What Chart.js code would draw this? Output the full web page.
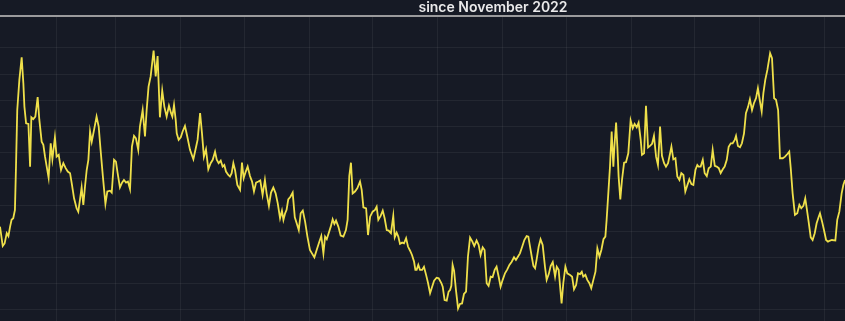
<!DOCTYPE html>
<html>
<head>
<meta charset="utf-8">
<title>since November 2022</title>
<script src="https://cdn.jsdelivr.net/npm/chart.js@4.4.1/dist/chart.umd.min.js"></script>
<style>
  html, body { margin: 0; padding: 0; background: #161a25; overflow: hidden; }
  #wrap { width: 845px; height: 321px; overflow: hidden; position: relative; }
  canvas { display: block; background: #161a25; }
</style>
</head>
<body>
<div id="wrap"><canvas id="volChart" width="986" height="321"></canvas></div>
<script>
// days counted from 5 Jan 2023 (left edge of the visible part)
const days = [
  0.0, 1.3, 2.2, 3.2, 4.0, 4.8, 5.5, 6.3, 7.1, 7.6,
  8.2, 9.2, 10.3, 11.1, 11.6, 12.4, 13.5, 14.3, 14.9, 15.8,
  16.8, 17.9, 18.7, 19.8, 20.6, 21.4, 22.2, 23.1, 24.1, 24.9,
  26.1, 26.9, 27.9, 29.0, 30.1, 31.2, 32.2, 33.3, 34.1, 35.2,
  36.4, 37.2, 38.0, 38.8, 39.6, 40.4, 41.2, 42.0, 42.8, 43.6,
  44.7, 45.9, 46.9, 47.8, 48.9, 50.1, 51.0, 52.3, 53.1, 54.2,
  55.1, 55.9, 57.0, 58.0, 58.9, 59.9, 60.8, 61.8, 62.7, 63.7,
  64.6, 65.7, 66.5, 67.8, 68.9, 69.7, 70.6, 71.6, 73.0, 74.0,
  74.9, 76.0, 77.1, 78.1, 79.2, 80.3, 81.3, 81.9, 82.7, 83.5,
  84.0, 84.9, 85.9, 86.8, 87.9, 89.0, 90.3, 91.9, 93.2, 93.9,
  95.1, 96.0, 96.9, 97.9, 99.0, 100.1, 101.1, 102.2, 103.0, 103.9,
  104.9, 105.8, 106.6, 107.4, 108.5, 109.3, 110.1, 110.9, 111.7, 112.8,
  114.1, 115.0, 115.8, 116.8, 117.7, 118.8, 119.8, 120.7, 121.7, 122.8,
  123.7, 124.8, 125.9, 126.7, 127.8, 128.8, 129.9, 131.0, 132.0, 133.1,
  134.0, 134.7, 135.5, 136.2, 137.0, 138.1, 139.1, 140.1, 141.0, 142.0,
  142.9, 143.9, 145.0, 146.1, 147.3, 148.4, 149.4, 150.5, 151.8, 152.7,
  153.7, 154.5, 155.3, 156.2, 157.2, 158.1, 158.9, 159.7, 160.8, 161.9,
  163.2, 164.4, 165.2, 166.0, 166.8, 167.6, 168.7, 169.8, 171.1, 171.9,
  172.7, 174.0, 174.9, 175.9, 177.1, 178.2, 179.0, 179.8, 180.9, 181.9,
  182.8, 183.8, 184.7, 185.8, 186.9, 187.6, 188.5, 189.3, 190.1, 191.1,
  192.0, 193.0, 193.9, 194.9, 195.8, 196.8, 197.4, 198.0, 198.8, 199.6,
  200.6, 201.5, 202.5, 203.4, 204.4, 205.3, 206.3, 207.5, 208.5, 209.8,
  210.4, 211.3, 212.3, 213.2, 213.9, 214.5, 215.1, 215.8, 216.7, 217.7,
  218.6, 219.6, 220.5, 221.5, 222.4, 223.4, 224.5, 225.4, 226.5, 227.5,
  228.4, 229.4, 230.3, 231.3, 232.2, 233.2, 234.1, 235.1, 236.0, 237.0,
  237.9, 238.9, 240.0, 241.1, 242.1, 243.2, 244.3, 245.2, 246.2, 247.1,
  248.2, 249.2, 250.3, 251.1, 251.9, 252.7, 253.5, 254.3, 255.0, 256.0,
  256.9, 257.9, 259.0, 259.8, 260.8, 261.7, 262.7, 263.8, 264.6, 265.5,
  266.9, 267.7, 268.7, 269.6, 270.9, 271.9, 272.8, 273.8, 274.7, 275.7,
  276.5, 277.2, 278.2, 279.1, 280.1, 281.0, 282.0, 283.0, 283.9, 284.9,
  285.8, 286.8, 287.7, 288.3, 289.1, 289.9, 290.7, 291.5, 292.0, 292.8,
  293.4, 294.0, 294.8, 295.6, 296.6, 297.5, 298.6, 299.7, 300.7, 301.6,
  302.6, 303.5, 304.5, 305.1, 306.1, 307.0, 308.0, 308.9, 309.9, 310.8,
  311.8, 312.7, 313.7, 314.6, 315.6, 316.5, 317.5, 318.4, 319.1, 320.0,
  321.0, 321.9, 322.9, 323.8, 324.8, 325.7, 326.7, 327.6, 328.6, 329.5,
  330.5, 331.4, 332.0, 333.0, 334.0, 334.9, 335.9, 336.8, 337.8, 338.7,
  339.7, 340.6, 341.6, 342.5, 343.5, 344.4, 345.4, 346.3, 347.3, 348.2,
  349.2, 349.8, 350.7, 351.7, 352.6, 353.6, 354.5, 355.5, 356.4, 357.4,
  358.3, 359.3, 360.2, 361.2, 362.0, 362.8, 363.7, 364.7, 366.0, 366.9,
  367.9, 368.8, 369.8, 370.7, 372.0, 373.1, 374.2, 375.1, 375.8, 376.7,
  377.8, 378.9, 379.9, 380.8, 381.8, 382.7, 383.4, 384.3, 385.3, 386.2,
  387.2, 388.1, 389.1, 389.7, 390.7, 391.6, 392.6, 393.5, 394.5, 395.4,
  397.0, 397.9, 398.9, 400.0, 400.8, 401.6
];

const values = [
  31.8, 24.4, 25.4, 29.3, 28.2, 31.8, 34.4, 35.0, 38.2, 54.7,
  76.3, 87.8, 96.4, 86.5, 77.6, 71.2, 71.0, 54.7, 73.5, 72.8,
  73.8, 81.2, 72.5, 64.2, 63.0, 58.5, 54.7, 50.5, 63.6, 57.5,
  65.9, 58.5, 59.2, 53.4, 56.0, 54.1, 52.8, 52.2, 48.3, 42.6,
  38.8, 37.5, 42.0, 46.8, 40.1, 47.1, 53.4, 57.3, 68.1, 64.2,
  68.7, 73.8, 70.0, 61.1, 50.9, 40.5, 45.2, 45.5, 44.8, 57.3,
  56.6, 52.2, 46.8, 48.6, 49.6, 48.6, 49.0, 46.1, 62.3, 66.4,
  65.5, 61.1, 70.0, 76.3, 66.2, 76.3, 85.2, 89.1, 99.0, 89.1,
  96.9, 73.5, 83.7, 77.6, 73.8, 77.9, 75.1, 73.8, 78.2, 72.5,
  67.4, 64.9, 65.9, 68.1, 70.2, 66.2, 61.1, 57.5, 62.3, 64.9,
  75.1, 67.4, 58.5, 61.3, 53.7, 56.0, 57.3, 60.4, 57.3, 56.0,
  57.0, 54.7, 55.3, 52.8, 51.5, 50.9, 52.2, 56.0, 53.4, 47.7,
  45.8, 56.2, 50.3, 52.8, 54.7, 51.1, 49.0, 45.2, 48.6, 49.0,
  49.4, 43.9, 49.6, 44.5, 39.7, 44.8, 46.7, 44.5, 40.7, 35.0,
  37.9, 34.4, 36.9, 38.2, 42.2, 43.3, 44.8, 35.4, 33.1, 30.5,
  36.9, 37.9, 33.7, 28.0, 22.9, 21.4, 20.1, 22.9, 26.1, 28.2,
  21.6, 28.0, 27.0, 29.3, 31.8, 34.6, 32.8, 34.1, 31.8, 28.4,
  28.0, 30.5, 34.4, 51.1, 56.2, 44.5, 45.2, 46.4, 49.0, 45.8,
  39.2, 38.8, 28.6, 35.6, 37.5, 38.2, 39.4, 34.4, 35.9, 37.9,
  35.0, 30.5, 30.3, 29.3, 35.9, 27.7, 29.5, 28.0, 25.2, 25.7,
  25.4, 27.4, 24.2, 22.6, 21.0, 18.4, 15.3, 15.3, 17.2, 15.3,
  15.3, 16.5, 13.4, 10.4, 6.4, 8.7, 11.2, 12.3, 12.1, 10.2,
  8.9, 3.8, 3.6, 7.0, 7.6, 9.2, 17.2, 15.0, 7.6, 0.6,
  2.3, 2.5, 6.1, 7.0, 20.4, 27.6, 26.1, 24.4, 26.5, 24.8,
  21.0, 23.9, 22.9, 10.2, 9.2, 12.7, 12.5, 15.3, 16.5, 12.7,
  8.9, 11.5, 14.0, 15.5, 17.2, 18.4, 20.1, 19.1, 20.4, 21.6,
  24.2, 26.7, 28.2, 28.0, 24.2, 20.4, 16.8, 15.9, 19.1, 24.2,
  27.0, 24.8, 16.5, 11.5, 13.7, 16.8, 18.3, 12.7, 16.5, 15.3,
  2.5, 10.2, 16.5, 14.0, 13.4, 12.7, 7.9, 9.5, 14.0, 13.7,
  14.6, 12.7, 13.4, 11.5, 10.2, 8.3, 11.5, 14.6, 23.5, 20.4,
  22.9, 27.0, 28.0, 34.4, 44.5, 54.7, 68.1, 54.7, 62.3, 71.5,
  62.3, 50.9, 42.2, 49.6, 56.2, 56.4, 59.8, 72.3, 69.3, 71.0,
  69.7, 71.5, 64.9, 59.2, 59.8, 77.9, 62.0, 62.6, 63.4, 66.4,
  58.5, 55.3, 70.0, 58.8, 56.0, 54.7, 56.0, 59.5, 62.3, 57.5,
  57.9, 50.9, 49.6, 52.2, 51.5, 45.2, 47.7, 49.9, 48.0, 47.7,
  53.4, 55.3, 54.7, 54.7, 57.3, 52.2, 51.1, 54.1, 54.7, 61.1,
  55.0, 54.7, 54.1, 52.2, 53.7, 54.7, 57.3, 62.3, 63.6, 63.6,
  64.9, 66.4, 62.6, 62.1, 63.6, 67.4, 75.1, 77.4, 80.4, 76.3,
  78.9, 80.8, 84.6, 79.5, 75.7, 82.7, 87.8, 91.6, 98.0, 96.1,
  80.8, 80.2, 76.3, 57.9, 57.9, 58.5, 59.5, 60.4, 54.1, 44.5,
  36.3, 36.9, 40.1, 38.8, 39.7, 42.6, 38.8, 33.7, 27.7, 26.7,
  29.3, 33.1, 35.6, 36.9, 33.7, 30.5, 26.7, 26.1, 26.5, 26.7,
  26.5, 34.4, 37.5, 44.5, 47.7, 49.6
];

// month starts (same day count) for the vertical grid
const monthDays = [27, 55, 86, 116, 147, 177, 208, 239, 269, 300, 330, 361, 392, 421, 452];
const monthNames = ['Feb', 'Mar', 'Apr', 'May', 'Jun', 'Jul', 'Aug', 'Sep', 'Oct', 'Nov', 'Dec', 'Jan', 'Feb', 'Mar', 'Apr'];
const gridLevels = [0, 10, 20, 30, 40, 50, 60, 70, 80, 90, 100];

const points = days.map((d, i) => ({ x: d, y: values[i] }));
const gridColor = 'rgba(255, 255, 255, 0.055)';

new Chart(document.getElementById('volChart'), {
    type: 'line',
    data: {
        datasets: [{
            label: 'volatility',
            data: points,
            borderColor: '#efe04a',
            borderWidth: 1.8,
            pointRadius: 0,
            tension: 0
        }]
    },
    options: {
        responsive: false,
        animation: false,
        layout: { padding: 0 },
        plugins: {
            legend: { display: false },
            tooltip: { enabled: false },
            title: {
                display: true,
                text: 'since November 2022',
                color: '#e9e9ea',
                font: { family: 'Inter', size: 14, weight: '600', lineHeight: 1.1 },
                padding: { top: 0, bottom: 0.5 }
            }
        },
        scales: {
            x: {
                type: 'linear',
                position: 'top',
                min: 0,
                max: 468.6,
                afterBuildTicks: scale => { scale.ticks = monthDays.map(v => ({ value: v })); },
                ticks: { display: false, callback: (v, i) => monthNames[i] },
                grid: { color: gridColor, drawTicks: false },
                border: { display: true, color: '#9a9a9c', width: 2 }
            },
            y: {
                min: -4.2,
                max: 112.2,
                afterBuildTicks: scale => { scale.ticks = gridLevels.map(v => ({ value: v })); },
                ticks: { display: false },
                grid: { color: gridColor, drawTicks: false },
                border: { display: false }
            }
        }
    }
});
</script>
</body>
</html>
